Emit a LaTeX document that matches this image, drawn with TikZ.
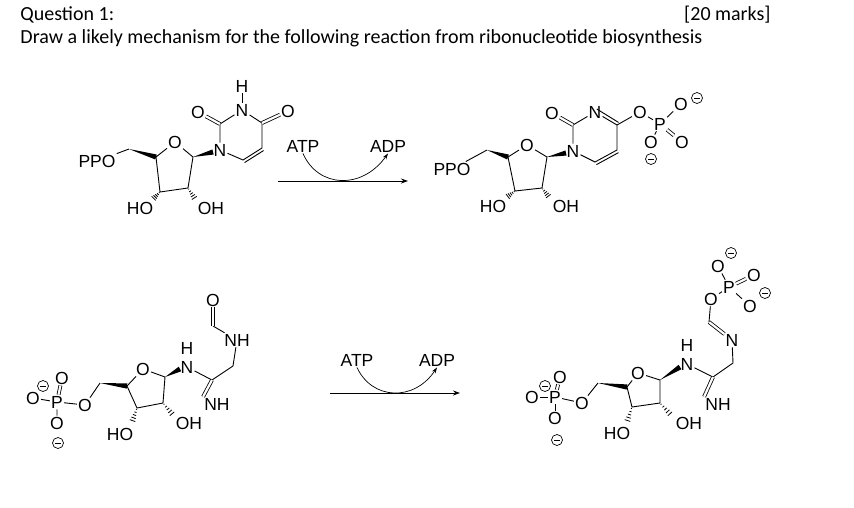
\documentclass[tikz,border=0pt]{standalone}
\usepackage{fontspec}
\setmainfont{Carlito}
\newfontfamily\ff{Liberation Sans}
\usetikzlibrary{calc,arrows.meta}
\begin{document}
\begin{tikzpicture}[x=1pt,y=-1pt,line width=0.9pt,
 atm/.style={font=\ff\fontsize{17.5}{17.5}\selectfont,inner sep=0.8pt},
 neg/.style={circle,draw,line width=0.7pt,minimum size=11pt,inner sep=0pt,
   path picture={\draw[line width=0.8pt] ([xshift=-3pt]path picture bounding box.center)--([xshift=3pt]path picture bounding box.center);}},
 dbl/.style={double,double distance=2.2pt,line width=0.8pt},
 lab/.style={font=\ff\fontsize{17.5}{17.5}\selectfont,inner sep=1pt}]
\newcommand\wdg[2]{\fill (#1) -- ($(#2)!2.6pt!90:(#1)$) -- ($(#2)!2.6pt!-90:(#1)$) -- cycle;}
\newcommand\hsh[2]{\foreach \t/\w in {0.1/0.5,0.3/1.1,0.5/1.7,0.7/2.3,0.9/2.9}{\draw[line width=0.8pt] ($(#1)!\t!(#2)!\w pt!90:(#2)$) -- ($(#1)!\t!(#2)!\w pt!-90:(#2)$);}}
\useasboundingbox (0,0) rectangle (854,507);
% titles
\node[anchor=west,font=\fontsize{20}{20}\selectfont,inner sep=0] (q) at (20,15) {Question 1:};
\node[anchor=east,font=\fontsize{20}{20}\selectfont,inner sep=0] (m) at (771,15) {[20 marks]};
\node[anchor=west,font=\fontsize{20}{20}\selectfont,inner sep=0] (d) at (20,38) {Draw a likely mechanism for the following reaction from ribonucleotide biosynthesis};
% ===== molecule 1
\node[atm] (Appo) at (97,161) {PPO};
\coordinate (Aa) at (129,149); \coordinate (Ac4) at (156,157);
\node[atm] (Ao) at (175,142) {O};
\coordinate (Ac1) at (193,157); \coordinate (Ac2) at (188,188); \coordinate (Ac3) at (160,192);
\node[atm] (Aho) at (140,208) {HO}; \node[atm] (Aoh) at (211,208) {OH};
\coordinate (Ahe1) at (153,199); \coordinate (Ahe2) at (195,199);
\node[atm] (An1) at (220,150) {N}; \coordinate (Awe) at (213,152);
\coordinate (Ac2u) at (220,124);
\node[atm] (Ao2) at (198,112) {O};
\node[atm] (An3) at (242,110) {N};
\node[atm] (Ah) at (242,86) {H};
\coordinate (Ac4u) at (262,123);
\node[atm] (Ao4) at (288,111) {O};
\coordinate (Ac5) at (262,148); \coordinate (Ac6) at (243,160);
\draw (Appo) -- (Aa); \wdg{Aa}{Ac4}
\draw (Ac4) -- (Ao) -- (Ac1) -- (Ac2) -- (Ac3) -- (Ac4);
\hsh{Ac3}{Ahe1} \hsh{Ac2}{Ahe2} \wdg{Ac1}{Awe}
\draw (An1) -- (Ac2u) -- (An3) -- (Ac4u) -- (Ac5) -- (Ac6) -- (An1);
\draw (An3) -- (Ah);
\draw[dbl] (Ac2u) -- (Ao2); \draw[dbl] (Ac4u) -- (Ao4);
\draw ($(Ac5)!3pt!90:(Ac6)$) -- ($(Ac6)!3pt!-90:(Ac5)$);
% arrow 1
\node[lab] (atp1) at (303,146) {ATP}; \node[lab] (adp1) at (388,146) {ADP};
\coordinate (r1a) at (278,181); \coordinate (r1b) at (408,181);
\draw[-{Stealth[length=7pt,width=5pt]}] (r1a) -- (r1b);
\draw[-{Stealth[length=6pt,width=4pt]},line width=0.7pt] (atp1.south) .. controls (318,188) and (362,190) .. (adp1.south);
% ===== molecule 2
\node[atm] (Bppo) at (452,169) {PPO};
\coordinate (Ba) at (487,150); \coordinate (Bc4) at (508,157);
\node[atm] (Bo) at (527,145) {O};
\coordinate (Bc1) at (547,157); \coordinate (Bc2) at (542,188); \coordinate (Bc3) at (515,191);
\node[atm] (Bho) at (493,206) {HO}; \node[atm] (Boh) at (566,206) {OH};
\coordinate (Bhe1) at (507,197); \coordinate (Bhe2) at (549,197);
\node[atm] (Bn1) at (573,151) {N}; \coordinate (Bwe) at (566,153);
\coordinate (Bc2u) at (573,125);
\node[atm] (Bo2) at (552,113) {O};
\node[atm] (Bn3) at (595,112) {N};
\coordinate (Bc4u) at (617,125);
\coordinate (Bc5) at (617,150); \coordinate (Bc6) at (595,162);
\node[atm] (Bop) at (640,112) {O};
\node[atm] (Bp) at (660,124) {P};
\node[atm] (Bot) at (681,104) {O}; \node[neg] (Bn1m) at (697,98) {};
\node[atm] (Bor) at (682,142) {O};
\node[atm] (Bol) at (651,142) {O}; \node[neg] (Bn2m) at (651,159) {};
\draw (Bppo) -- (Ba); \wdg{Ba}{Bc4}
\draw (Bc4) -- (Bo) -- (Bc1) -- (Bc2) -- (Bc3) -- (Bc4);
\hsh{Bc3}{Bhe1} \hsh{Bc2}{Bhe2} \wdg{Bc1}{Bwe}
\draw (Bn1) -- (Bc2u) -- (Bn3); \draw (Bc4u) -- (Bc5) -- (Bc6) -- (Bn1);
\draw[dbl] (Bc2u) -- (Bo2);
\draw (Bn3) -- (Bc4u); \draw ($(Bn3)!3.5pt!90:(Bc4u)$) -- ($(Bc4u)!3pt!-90:(Bn3)$);
\draw ($(Bc5)!3pt!90:(Bc6)$) -- ($(Bc6)!3pt!-90:(Bc5)$);
\draw (Bc4u) -- (Bop) -- (Bp) -- (Bot); \draw (Bp) -- (Bol);
\draw[dbl] (Bp) -- (Bor);
% arrow 2
\node[lab] (atp2) at (357,360) {ATP}; \node[lab] (adp2) at (437,360) {ADP};
\coordinate (r2a) at (330,393); \coordinate (r2b) at (460,393);
\draw[-{Stealth[length=7pt,width=5pt]}] (r2a) -- (r2b);
\draw[-{Stealth[length=6pt,width=4pt]},line width=0.7pt] (atp2.south) .. controls (372,400) and (414,402) .. (adp2.south);
% ===== molecule 3
\node[atm] (Cp) at (57,402) {P};
\node[atm] (Col) at (33,398) {O}; \node[neg] (Cm1) at (43,386) {};
\node[atm] (Cot) at (62,378) {O};
\node[atm] (Cob) at (57,423) {O}; \node[neg] (Cm2) at (58,443) {};
\node[atm] (Cor) at (85,405) {O};
\coordinate (Ca) at (100,383); \coordinate (Cc4) at (127,386);
\node[atm] (Co) at (143,369) {O};
\coordinate (Cc1) at (165,377); \coordinate (Cc2) at (163,403); \coordinate (Cc3) at (137,408);
\node[atm] (Cho) at (120,434) {HO}; \node[atm] (Coh) at (189,423) {OH};
\coordinate (Che1) at (132,422); \coordinate (Che2) at (173,415);
\node[atm] (Cn) at (187,367) {N}; \node[atm] (Ch) at (187,348) {H}; \coordinate (Cwe) at (180,369);
\coordinate (Cc) at (212,380);
\node[atm] (Cnh) at (217,404) {NH};
\coordinate (Cch2) at (233,366);
\node[atm] (Cnh2) at (237,340) {NH};
\coordinate (Ccf) at (213,326);
\node[atm] (Cof) at (213,300) {O};
\draw (Col) -- (Cp) -- (Cob); \draw (Cp) -- (Cor) -- (Ca); \draw[dbl] (Cp) -- (Cot);
\wdg{Ca}{Cc4}
\draw (Cc4) -- (Co) -- (Cc1) -- (Cc2) -- (Cc3) -- (Cc4);
\hsh{Cc3}{Che1} \hsh{Cc2}{Che2} \wdg{Cc1}{Cwe}
\draw (Cn) -- (Cc) -- (Cch2) -- (Cnh2) -- (Ccf); \draw[dbl] (Cc) -- (Cnh.north west);
\draw[dbl] (Ccf) -- (Cof);
% ===== molecule 4
\node[atm] (Dp) at (555,397) {P};
\node[atm] (Dol) at (532,397) {O}; \node[neg] (Dm1) at (545,386) {};
\node[atm] (Dot) at (560,377) {O};
\node[atm] (Dob) at (555,418) {O}; \node[neg] (Dm2) at (557,440) {};
\node[atm] (Dor) at (582,403) {O};
\coordinate (Da) at (598,383); \coordinate (Dc4) at (627,387);
\node[atm] (Do) at (638,373) {O};
\coordinate (Dc1) at (660,380); \coordinate (Dc2) at (660,403); \coordinate (Dc3) at (632,407);
\node[atm] (Dho) at (617,433) {HO}; \node[atm] (Doh) at (689,423) {OH};
\coordinate (Dhe1) at (627,422); \coordinate (Dhe2) at (671,415);
\node[atm] (Dn) at (687,364) {N}; \node[atm] (Dh) at (687,345) {H}; \coordinate (Dwe) at (680,367);
\coordinate (Dc) at (713,377);
\node[atm] (Dnh) at (718,404) {NH};
\coordinate (Dch2) at (733,363);
\node[atm] (Dn2) at (732,340) {N};
\coordinate (Dcm) at (709,322);
\node[atm] (Dop) at (711,299) {O};
\node[atm] (Dpp) at (729,287) {P};
\node[atm] (Do1) at (718,266) {O}; \node[neg] (Dm3) at (731,253) {};
\node[atm] (Do2) at (754,275) {O};
\node[atm] (Do3) at (750,306) {O}; \node[neg] (Dm4) at (765,293) {};
\draw (Dol) -- (Dp) -- (Dob); \draw (Dp) -- (Dor) -- (Da); \draw[dbl] (Dp) -- (Dot);
\wdg{Da}{Dc4}
\draw (Dc4) -- (Do) -- (Dc1) -- (Dc2) -- (Dc3) -- (Dc4);
\hsh{Dc3}{Dhe1} \hsh{Dc2}{Dhe2} \wdg{Dc1}{Dwe}
\draw (Dn) -- (Dc) -- (Dch2) -- (Dn2); \draw[dbl] (Dc) -- (Dnh.north west);
\draw[dbl] (Dcm) -- (Dn2);
\draw (Dcm) -- (Dop) -- (Dpp) -- (Do1); \draw (Dpp) -- (Do3); \draw[dbl] (Dpp) -- (Do2);
\end{tikzpicture}
\end{document}
